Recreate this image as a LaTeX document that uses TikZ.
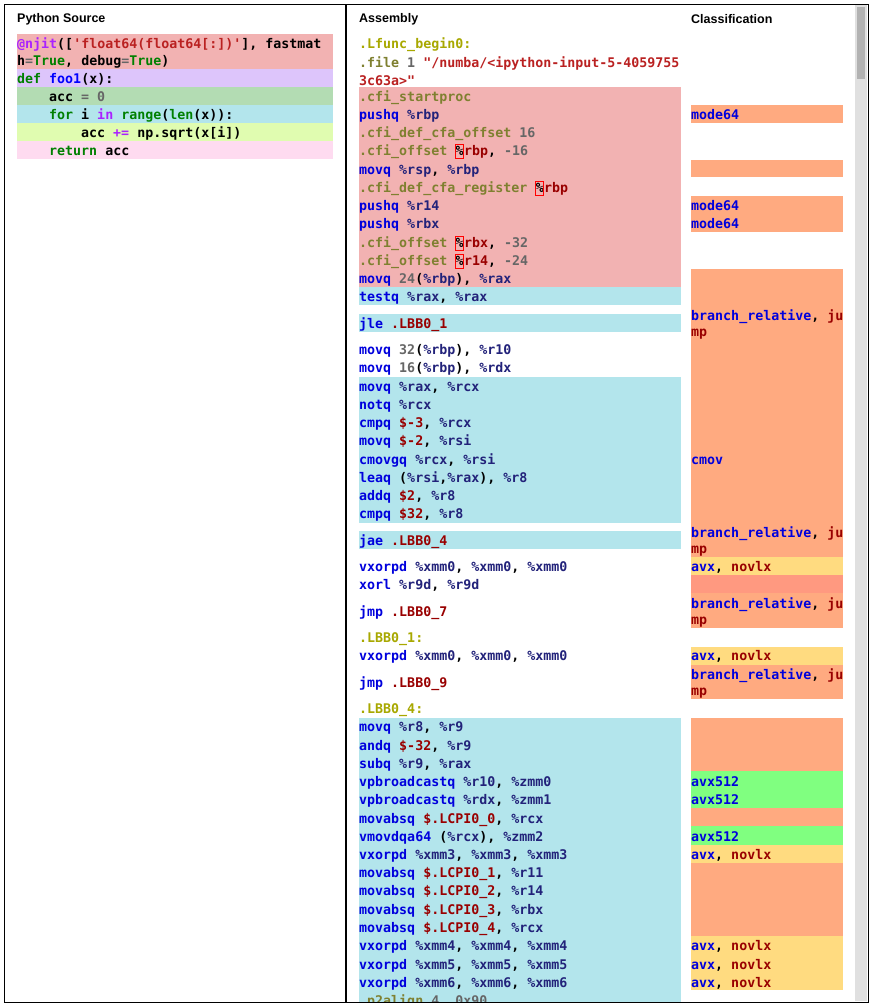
\documentclass[tikz,border=0pt]{standalone}
\usepackage{fontspec}
\setmainfont{Liberation Sans}
\setmonofont{DejaVu Sans Mono}
\usepackage{tikz}

\definecolor{srcpink}{HTML}{F2B2B2}
\definecolor{srcpurple}{HTML}{DDC5FB}
\definecolor{srcgreen}{HTML}{B3DCB3}
\definecolor{srccyan}{HTML}{B3E5EC}
\definecolor{srclime}{HTML}{E0FCB0}
\definecolor{srcrose}{HTML}{FEDBF0}
\definecolor{clorange}{HTML}{FFAA80}
\definecolor{clyellow}{HTML}{FFDB80}
\definecolor{clgreen}{HTML}{80FF80}
\definecolor{clsalmon}{HTML}{FF9980}
\definecolor{mnc}{HTML}{0000DD}
\definecolor{rgc}{HTML}{22227A}
\definecolor{nmc}{HTML}{666666}
\definecolor{imc}{HTML}{990000}
\definecolor{drc}{HTML}{7F8030}
\definecolor{lbc}{HTML}{A8A800}
\definecolor{stc}{HTML}{BA2121}
\definecolor{kwc}{HTML}{008000}
\definecolor{pac}{HTML}{AA22FF}
\definecolor{fnc}{HTML}{0000FF}

\newcommand\mn[1]{\textcolor{mnc}{#1}}
\newcommand\rg[1]{\textcolor{rgc}{#1}}
\newcommand\nm[1]{\textcolor{nmc}{#1}}
\newcommand\im[1]{\textcolor{imc}{#1}}
\newcommand\dr[1]{\textcolor{drc}{#1}}
\newcommand\lb[1]{\textcolor{lbc}{#1}}
\newcommand\st[1]{\textcolor{stc}{#1}}
\newcommand\kw[1]{\textcolor{kwc}{#1}}
\newcommand\pa[1]{\textcolor{pac}{#1}}
\newcommand\fn[1]{\textcolor{fnc}{#1}}
\newcommand\pcbox{{\color{red}\setlength\fboxsep{-0.4pt}\setlength\fboxrule{0.8pt}\fbox{\color{black}\rule[-3pt]{0pt}{14pt}\%}}}

\begin{document}
\begin{tikzpicture}[x=1pt,y=-1pt,
    code/.style={anchor=west,inner sep=0pt,text height=9.7pt,text depth=0pt,yshift=-1pt,
      font=\ttfamily\bfseries\fontsize{13.3}{16}\selectfont},
    head/.style={anchor=west,inner sep=0pt,yshift=-1pt,font=\bfseries\fontsize{12.5}{14}\selectfont}]
  \useasboundingbox (0,0) rectangle (873,1006);
  \fill[white] (0,0) rectangle (873,1006);

  % python source backgrounds
  \fill[srcpink]   (17,34)  rectangle (333,69);
  \fill[srcpurple] (17,69)  rectangle (333,87);
  \fill[srcgreen]  (17,87)  rectangle (333,105);
  \fill[srccyan]   (17,105) rectangle (333,123);
  \fill[srclime]   (17,123) rectangle (333,141);
  \fill[srcrose]   (17,141) rectangle (333,159);

  % assembly backgrounds
  \fill[srcpink] (359,87)  rectangle (681,287);
  \fill[srccyan] (359,287) rectangle (681,305);
  \fill[srccyan] (359,314) rectangle (681,332);
  \fill[srccyan] (359,377) rectangle (681,523);
  \fill[srccyan] (359,531) rectangle (681,549);
  \fill[srccyan] (359,718) rectangle (681,1002);

  % classification backgrounds
  \fill[clorange] (691,105) rectangle (843,123);
  \fill[clorange] (691,160) rectangle (843,177);
  \fill[clorange] (691,196) rectangle (843,232);
  \fill[clorange] (691,269) rectangle (843,557);
  \fill[clyellow] (691,557) rectangle (843,575);
  \fill[clsalmon] (691,575) rectangle (843,593);
  \fill[clorange] (691,593) rectangle (843,628);
  \fill[clyellow] (691,647) rectangle (843,665);
  \fill[clorange] (691,665) rectangle (843,699);
  \fill[clorange] (691,718) rectangle (843,771);
  \fill[clgreen]  (691,771) rectangle (843,808);
  \fill[clorange] (691,808) rectangle (843,826);
  \fill[clgreen]  (691,826) rectangle (843,845);
  \fill[clyellow] (691,845) rectangle (843,863);
  \fill[clorange] (691,863) rectangle (843,936);
  \fill[clyellow] (691,936) rectangle (843,990);

  % headers
  \node[head] (hsrc) at (17,18)  {Python Source};
  \node[head] (hasm) at (359,18) {Assembly};
  \node[head] (hcls) at (691,18) {Classification};

  % python source
  \node[code] (p1) at (17,43)  {\pa{@njit}([\st{'float64(float64[:])'}], fastmat};
  \node[code] (p2) at (17,60)  {h\nm{=}\kw{True}, debug\nm{=}\kw{True})};
  \node[code] (p3) at (17,78)  {\kw{def} \fn{foo1}(x):};
  \node[code] (p4) at (49,96)  {acc \nm{=} \nm{0}};
  \node[code] (p5) at (49,114) {\kw{for} i \pa{in} \kw{range}(\kw{len}(x)):};
  \node[code] (p6) at (81,132) {acc \pa{+=} np.sqrt(x[i])};
  \node[code] (p7) at (49,150) {\kw{return} acc};

  % assembly
  \node[code] (a1)  at (359,43)  {\lb{.Lfunc\_begin0:}};
  \node[code] (a2)  at (359,62)  {\dr{.file} \nm{1} \st{"/numba/<ipython-input-5-4059755}};
  \node[code] (a3)  at (359,80)  {\st{3c63a>"}};
  \node[code] (a4)  at (359,96)  {\dr{.cfi\_startproc}};
  \node[code] (a5)  at (359,114) {\mn{pushq} \rg{\%rbp}};
  \node[code] (a6)  at (359,132) {\dr{.cfi\_def\_cfa\_offset} \nm{16}};
  \node[code] (a7)  at (359,150) {\dr{.cfi\_offset} \pcbox\im{rbp}, \nm{-16}};
  \node[code] (a8)  at (359,169) {\mn{movq} \rg{\%rsp}, \rg{\%rbp}};
  \node[code] (a9)  at (359,187) {\dr{.cfi\_def\_cfa\_register} \pcbox\im{rbp}};
  \node[code] (a10) at (359,205) {\mn{pushq} \rg{\%r14}};
  \node[code] (a11) at (359,223) {\mn{pushq} \rg{\%rbx}};
  \node[code] (a12) at (359,242) {\dr{.cfi\_offset} \pcbox\im{rbx}, \nm{-32}};
  \node[code] (a13) at (359,260) {\dr{.cfi\_offset} \pcbox\im{r14}, \nm{-24}};
  \node[code] (a14) at (359,278) {\mn{movq} \nm{24}(\rg{\%rbp}), \rg{\%rax}};
  \node[code] (a15) at (359,296) {\mn{testq} \rg{\%rax}, \rg{\%rax}};
  \node[code] (a16) at (359,323) {\mn{jle} \im{.LBB0\_1}};
  \node[code] (a17) at (359,349) {\mn{movq} \nm{32}(\rg{\%rbp}), \rg{\%r10}};
  \node[code] (a18) at (359,367) {\mn{movq} \nm{16}(\rg{\%rbp}), \rg{\%rdx}};
  \node[code] (a19) at (359,386) {\mn{movq} \rg{\%rax}, \rg{\%rcx}};
  \node[code] (a20) at (359,404) {\mn{notq} \rg{\%rcx}};
  \node[code] (a21) at (359,422) {\mn{cmpq} \im{\$-3}, \rg{\%rcx}};
  \node[code] (a22) at (359,440) {\mn{movq} \im{\$-2}, \rg{\%rsi}};
  \node[code] (a23) at (359,459) {\mn{cmovgq} \rg{\%rcx}, \rg{\%rsi}};
  \node[code] (a24) at (359,477) {\mn{leaq} (\rg{\%rsi},\rg{\%rax}), \rg{\%r8}};
  \node[code] (a25) at (359,495) {\mn{addq} \im{\$2}, \rg{\%r8}};
  \node[code] (a26) at (359,513) {\mn{cmpq} \im{\$32}, \rg{\%r8}};
  \node[code] (a27) at (359,540) {\mn{jae} \im{.LBB0\_4}};
  \node[code] (a28) at (359,566) {\mn{vxorpd} \rg{\%xmm0}, \rg{\%xmm0}, \rg{\%xmm0}};
  \node[code] (a29) at (359,584) {\mn{xorl} \rg{\%r9d}, \rg{\%r9d}};
  \node[code] (a30) at (359,611) {\mn{jmp} \im{.LBB0\_7}};
  \node[code] (a31) at (359,637) {\lb{.LBB0\_1:}};
  \node[code] (a32) at (359,655) {\mn{vxorpd} \rg{\%xmm0}, \rg{\%xmm0}, \rg{\%xmm0}};
  \node[code] (a33) at (359,682) {\mn{jmp} \im{.LBB0\_9}};
  \node[code] (a34) at (359,708) {\lb{.LBB0\_4:}};
  \node[code] (a35) at (359,726) {\mn{movq} \rg{\%r8}, \rg{\%r9}};
  \node[code] (a36) at (359,745) {\mn{andq} \im{\$-32}, \rg{\%r9}};
  \node[code] (a37) at (359,763) {\mn{subq} \rg{\%r9}, \rg{\%rax}};
  \node[code] (a38) at (359,781) {\mn{vpbroadcastq} \rg{\%r10}, \rg{\%zmm0}};
  \node[code] (a39) at (359,799) {\mn{vpbroadcastq} \rg{\%rdx}, \rg{\%zmm1}};
  \node[code] (a40) at (359,818) {\mn{movabsq} \im{\$.LCPI0\_0}, \rg{\%rcx}};
  \node[code] (a41) at (359,836) {\mn{vmovdqa64} (\rg{\%rcx}), \rg{\%zmm2}};
  \node[code] (a42) at (359,854) {\mn{vxorpd} \rg{\%xmm3}, \rg{\%xmm3}, \rg{\%xmm3}};
  \node[code] (a43) at (359,872) {\mn{movabsq} \im{\$.LCPI0\_1}, \rg{\%r11}};
  \node[code] (a44) at (359,890) {\mn{movabsq} \im{\$.LCPI0\_2}, \rg{\%r14}};
  \node[code] (a45) at (359,909) {\mn{movabsq} \im{\$.LCPI0\_3}, \rg{\%rbx}};
  \node[code] (a46) at (359,927) {\mn{movabsq} \im{\$.LCPI0\_4}, \rg{\%rcx}};
  \node[code] (a47) at (359,945) {\mn{vxorpd} \rg{\%xmm4}, \rg{\%xmm4}, \rg{\%xmm4}};
  \node[code] (a48) at (359,964) {\mn{vxorpd} \rg{\%xmm5}, \rg{\%xmm5}, \rg{\%xmm5}};
  \node[code] (a49) at (359,982) {\mn{vxorpd} \rg{\%xmm6}, \rg{\%xmm6}, \rg{\%xmm6}};
  \node[code] (a50) at (359,1000) {\dr{.p2align} \nm{4}, \nm{0x90}};

  % classification
  \node[code] (c1)  at (691,114) {\mn{mode64}};
  \node[code] (c2)  at (691,205) {\mn{mode64}};
  \node[code] (c3)  at (691,223) {\mn{mode64}};
  \node[code] (c4)  at (691,315) {\mn{branch\_relative}, \im{ju}};
  \node[code] (c5)  at (691,331) {\im{mp}};
  \node[code] (c6)  at (691,459) {\mn{cmov}};
  \node[code] (c7)  at (691,532) {\mn{branch\_relative}, \im{ju}};
  \node[code] (c8)  at (691,548) {\im{mp}};
  \node[code] (c9)  at (691,566) {\mn{avx}, \im{novlx}};
  \node[code] (c10) at (691,603) {\mn{branch\_relative}, \im{ju}};
  \node[code] (c11) at (691,619) {\im{mp}};
  \node[code] (c12) at (691,655) {\mn{avx}, \im{novlx}};
  \node[code] (c13) at (691,674) {\mn{branch\_relative}, \im{ju}};
  \node[code] (c14) at (691,690) {\im{mp}};
  \node[code] (c15) at (691,781) {\mn{avx512}};
  \node[code] (c16) at (691,799) {\mn{avx512}};
  \node[code] (c17) at (691,836) {\mn{avx512}};
  \node[code] (c18) at (691,854) {\mn{avx}, \im{novlx}};
  \node[code] (c19) at (691,945) {\mn{avx}, \im{novlx}};
  \node[code] (c20) at (691,964) {\mn{avx}, \im{novlx}};
  \node[code] (c21) at (691,982) {\mn{avx}, \im{novlx}};

  % frame, divider and scrollbar
  \fill[white] (0,1002) rectangle (873,1006);
  \fill[black!12] (855,5) rectangle (867,1001);
  \fill[black!30] (857,7) rectangle (865,79);
  \draw[line width=1pt] (4.5,4.5) rectangle (868,1002);
  \draw[line width=2pt] (346,4.5) -- (346,1002);
\end{tikzpicture}
\end{document}
